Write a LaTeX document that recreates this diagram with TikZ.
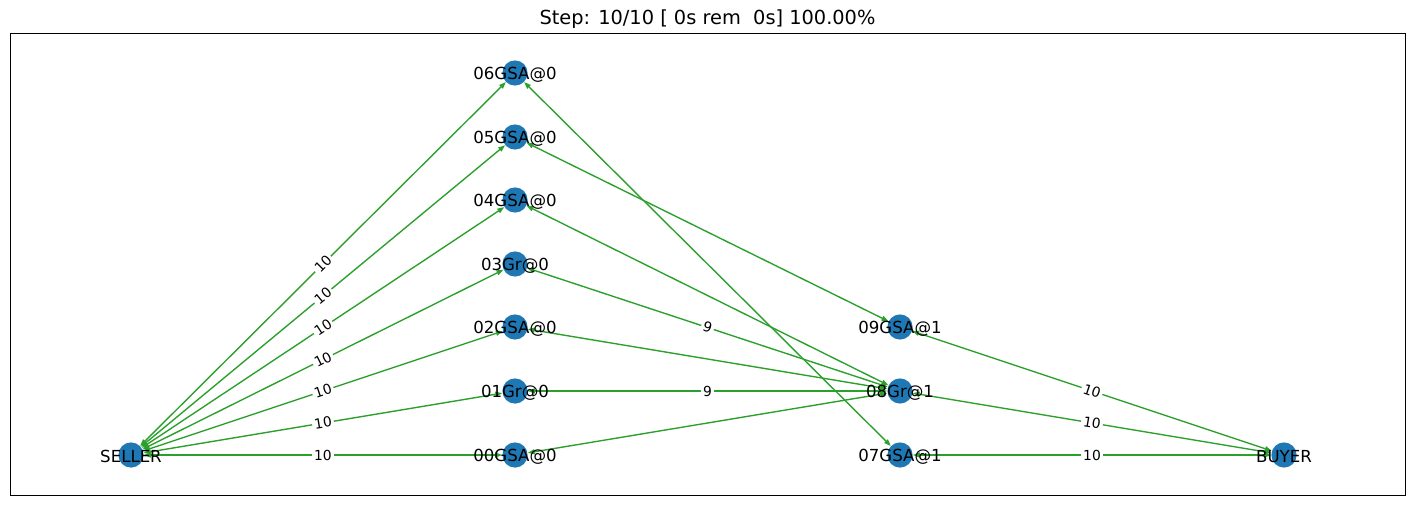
\documentclass[tikz,border=0pt]{standalone}
\usepackage{fontspec}
\setmainfont{DejaVu Sans}
\usetikzlibrary{arrows.meta}
\definecolor{nodeblue}{HTML}{1F77B4}
\definecolor{edgegreen}{HTML}{2CA02C}
\pgfdeclarelayer{bg}
\pgfsetlayers{bg,main}

\begin{document}
\begin{tikzpicture}[x=0.0254cm, y=-0.0254cm,
  vert/.style={circle, fill=nodeblue, inner sep=0pt, minimum size=6.4mm,
    label={[font=\fontsize{12}{14}\selectfont, inner sep=0pt, yshift=-1pt]center:#1}},
  edge/.style={draw=edgegreen, line width=1pt,
    {Triangle[length=5pt,width=3.6pt]}-{Triangle[length=5pt,width=3.6pt]}},
  wlabel/.style={fill=white, inner sep=1.5pt, sloped, font=\fontsize{10}{12}\selectfont}]
  \useasboundingbox (0,0) rectangle (1415,505);
  \node[font=\fontsize{14}{16}\selectfont] (title) at (707.5,19) {Step: 10/10 [ 0s rem\ \ 0s] 100.00\%};
  \draw[line width=0.6pt] (10,33) rectangle (1405,495);

  % agents
  \node[vert=SELLER] (seller) at (131,455) {};
  \node[vert=BUYER] (buyer) at (1284,455) {};
  % first column
  \node[vert=00GSA@0] (n00) at (515,455) {};
  \node[vert=01Gr@0] (n01) at (515,391) {};
  \node[vert=02GSA@0] (n02) at (515,327) {};
  \node[vert=03Gr@0] (n03) at (515,264) {};
  \node[vert=04GSA@0] (n04) at (515,200) {};
  \node[vert=05GSA@0] (n05) at (515,137) {};
  \node[vert=06GSA@0] (n06) at (515,73) {};
  % second column
  \node[vert=07GSA@1] (n07) at (900,455) {};
  \node[vert=08Gr@1] (n08) at (900,391) {};
  \node[vert=09GSA@1] (n09) at (900,327) {};

  \begin{pgfonlayer}{bg}
    \foreach \a/\b/\w in {seller/n06/10, seller/n05/10, seller/n04/10, seller/n03/10,
        seller/n02/10, seller/n01/10, seller/n00/10, n03/n08/9, n01/n08/9,
        n09/buyer/10, n08/buyer/10, n07/buyer/10}
      \draw[edge] (\a) -- node[wlabel] {\w} (\b);
    \foreach \a/\b in {n02/n08, n00/n08, n04/n08, n05/n09, n06/n07}
      \draw[edge] (\a) -- (\b);
  \end{pgfonlayer}
\end{tikzpicture}
\end{document}
